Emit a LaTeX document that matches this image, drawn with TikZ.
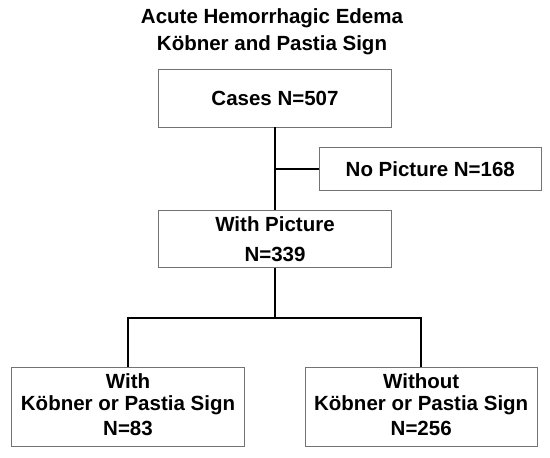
\documentclass[tikz,border=0pt]{standalone}
\usepackage{fontspec}
\setmainfont{Liberation Sans}
\begin{document}
\begin{tikzpicture}[x=1pt,y=-1pt,
  box/.style={draw=black!55,line width=0.8pt,minimum width=233pt,inner sep=0pt,
    align=center,font=\fontsize{20.5}{23.5}\selectfont\bfseries},
  link/.style={line width=2pt}]
\useasboundingbox (0,0) rectangle (550,458);
\node[align=center,font=\fontsize{20.5}{27}\selectfont\bfseries] (title) at (272,31.3)
  {Acute Hemorrhagic Edema\\Köbner and Pastia Sign};
\node[box,minimum height=57.7pt] (cases) at (275,98.2) {Cases N=507};
\node[box,minimum width=222.7pt,minimum height=43pt] (nopic) at (430.3,169.2) {No Picture N=168};
\node[box,minimum height=57.3pt] (withpic) at (275,238.7) {With Picture\\[6.5pt]N=339};
\node[box,text depth=4.6pt,minimum width=232.6pt,minimum height=79pt] (with) at (128,407)
  {With\\[-2pt]Köbner or Pastia Sign\\[2pt]N=83};
\node[box,text depth=4.6pt,minimum width=232.3pt,minimum height=79pt] (without) at (421.2,407)
  {Without\\[-2pt]Köbner or Pastia Sign\\[2pt]N=256};
\coordinate (split) at (275,318.3);
\draw[link] (cases) -- (withpic);
\draw[link] (cases.south |- nopic.west) -- (nopic.west);
\draw[link] (withpic) -- (split);
\foreach \n in {with,without}
  \draw[link] (split) -| (\n.north);
\end{tikzpicture}
\end{document}
